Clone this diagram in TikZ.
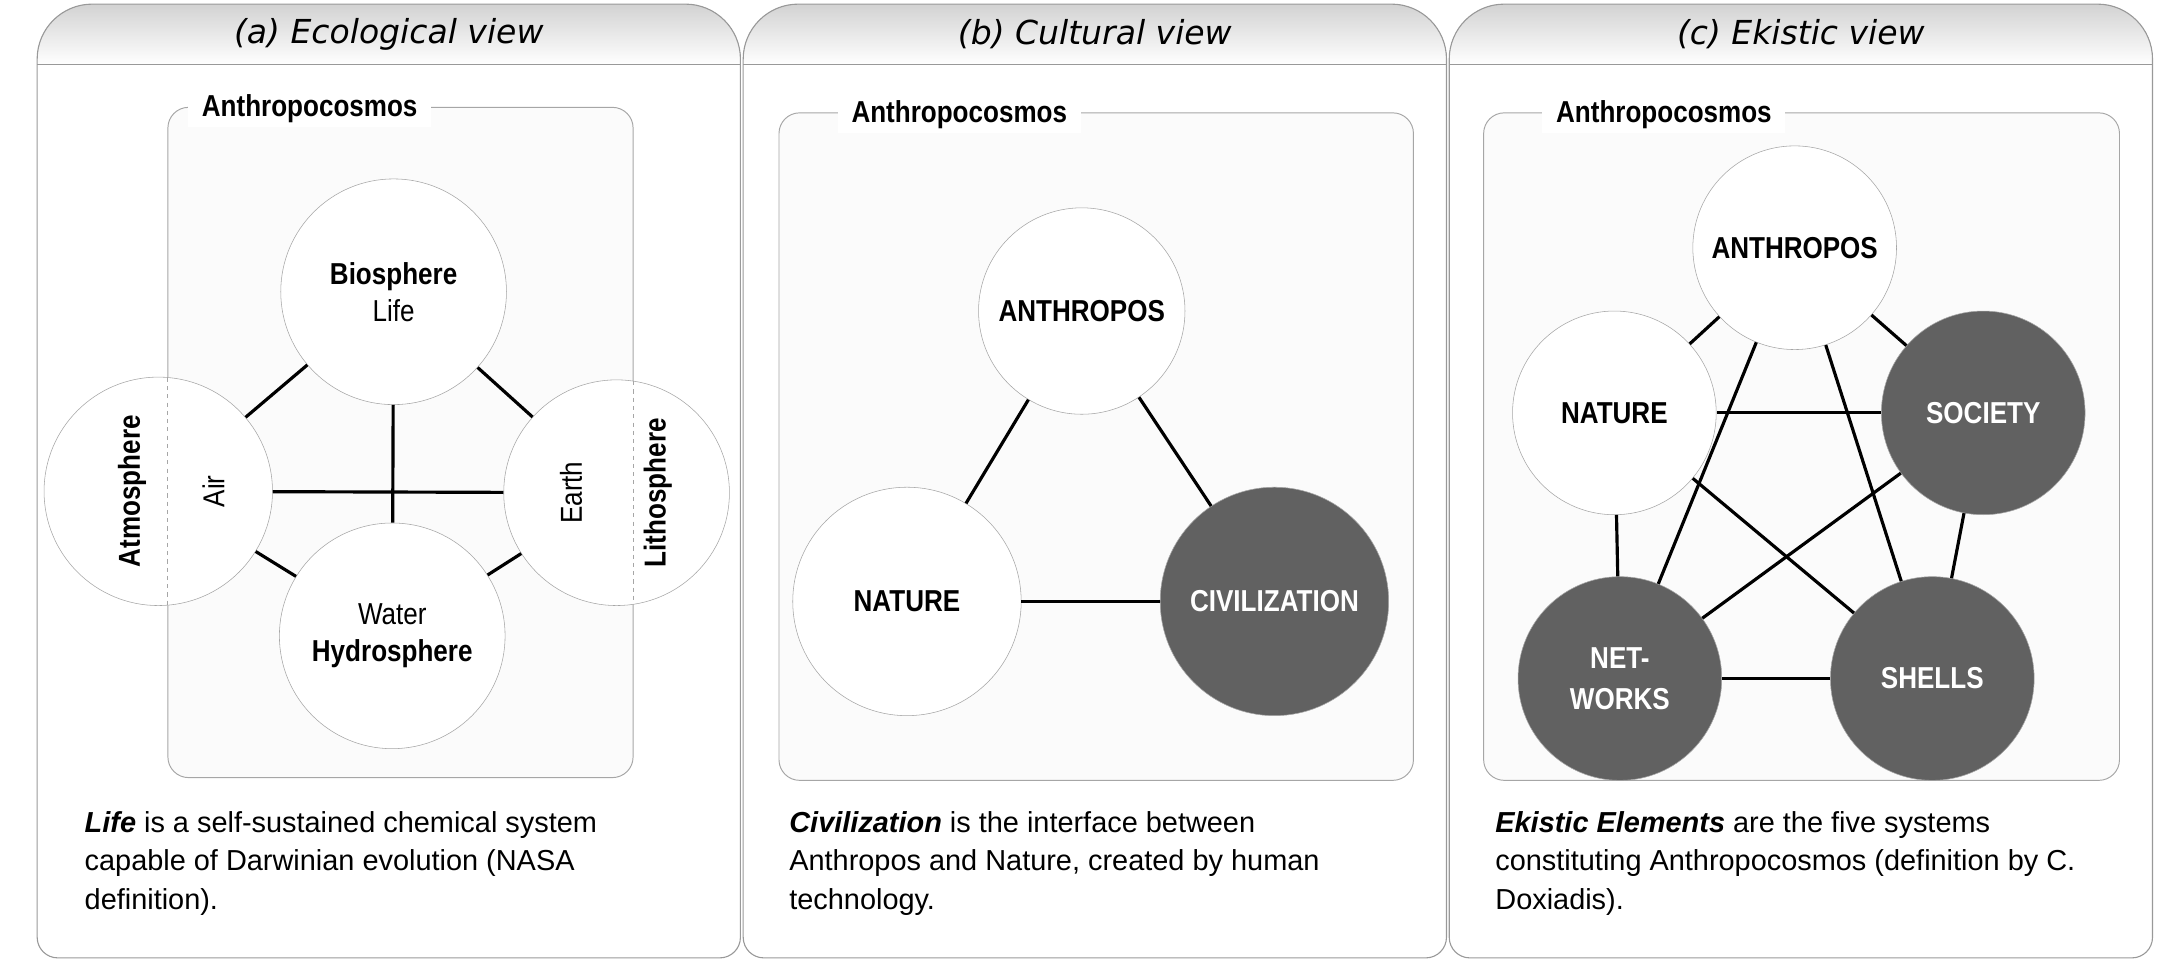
\documentclass[tikz,border=0pt]{standalone}
\usepackage{fontspec}
\setmainfont{Liberation Sans}
\newfontfamily\narrow[FakeStretch=0.86]{Liberation Sans}
\newfontfamily\headf{DejaVu Sans}
\begin{document}
\begin{tikzpicture}[x=1pt,y=-1pt,
  panel/.style={draw=gray!80,line width=0.8pt},
  inbox/.style={draw=gray!70,fill=gray!3,rounded corners=15pt,line width=0.7pt},
  boxlabel/.style={fill=white,inner xsep=10pt,font=\narrow\bfseries\fontsize{22}{26}\selectfont},
  wc/.style={circle,draw=gray!70,fill=white,minimum size=#1,inner sep=0pt,align=center,font=\narrow\fontsize{22}{27}\selectfont},
  gc/.style={circle,draw=gray!70,fill=black!62,text=white,minimum size=#1,inner sep=0pt,align=center,font=\narrow\bfseries\fontsize{22}{30}\selectfont},
  bl/.style={font=\narrow\bfseries\fontsize{22}{27}\selectfont},
  link/.style={line width=2.3pt},
  desc/.style={anchor=north west,align=left,font=\fontsize{21}{28}\selectfont},
  head/.style={font=\headf\itshape\fontsize{24}{28}\selectfont}]
\useasboundingbox (0,0) rectangle (1568,703);
\foreach \ox/\t in {27/{(a) Ecological view},540/{(b) Cultural view},1053/{(c) Ekistic view}}{
  \fill[top color=gray!35,bottom color=white] (\ox,47) -- (\ox,43) arc[start angle=180,end angle=270,radius=40] -- (\ox+471,3) arc[start angle=270,end angle=360,radius=40] -- (\ox+511,47) -- cycle;
  \draw[panel] (\ox,47) -- (\ox+511,47);
  \draw[panel] (\ox+15,696) arc[start angle=90,end angle=180,radius=15] -- (\ox,43) arc[start angle=180,end angle=270,radius=40] -- (\ox+471,3) arc[start angle=270,end angle=360,radius=40] -- (\ox+511,681) arc[start angle=0,end angle=90,radius=15] -- cycle;
  \node[head] (h\ox) at (\ox+255.5,25) {\t};
}
% panel a
\draw[inbox] (122,78) rectangle (460,565);
\node[boxlabel] (la) at (225,79) {Anthropocosmos};
\node[wc=164pt] (bio) at (286,212) {\textbf{Biosphere}\\Life};
\node[wc=166pt] (atm) at (115,357) {};
\node[wc=164pt] (ear) at (448,358) {};
\node[wc=164pt] (wat) at (285,462) {Water\\\textbf{Hydrosphere}};
\draw[gray!70,dashed,line width=0.7pt] (122,274.5) -- (122,439.5);
\draw[gray!70,dashed,line width=0.7pt] (460,277) -- (460,439);
\node[rotate=90,bl] (atmt) at (96,357) {Atmosphere};
\node[rotate=90,font=\narrow\fontsize{22}{27}\selectfont] (airt) at (155,357) {Air};
\node[rotate=90,font=\narrow\fontsize{22}{27}\selectfont] (eart) at (415,358) {Earth};
\node[rotate=90,bl] (litt) at (478,358) {Lithosphere};
\draw[link] (bio) -- (atm);
\draw[link] (bio) -- (ear);
\draw[link] (wat) -- (atm);
\draw[link] (wat) -- (ear);
\draw[link] (atm) -- (ear);
\draw[link] (bio) -- (wat);
\node[desc] (da) at (58,586) {\textbf{\textit{Life}} is a self-sustained chemical system\\capable of Darwinian evolution (NASA\\definition).};
% panel b
\draw[inbox] (566,82) rectangle (1027,567);
\node[boxlabel] (lb) at (697,83) {Anthropocosmos};
\node[wc=150pt,bl] (ban) at (786,226) {ANTHROPOS};
\node[wc=166pt,bl] (bna) at (659,437) {NATURE};
\node[gc=166pt] (bci) at (926,437) {CIVILIZATION};
\draw[link] (ban) -- (bna);
\draw[link] (ban) -- (bci);
\draw[link] (bna) -- (bci);
\node[desc] (db) at (570,586) {\textbf{\textit{Civilization}} is the interface between\\Anthropos and Nature, created by human\\technology.};
% panel c
\draw[inbox] (1078,82) rectangle (1540,567);
\node[boxlabel] (lc) at (1209,83) {Anthropocosmos};
\node[wc=148pt,bl] (can) at (1304,180) {ANTHROPOS};
\node[wc=148pt,bl] (cna) at (1173,300) {NATURE};
\node[gc=148pt] (cso) at (1441,300) {SOCIETY};
\node[gc=148pt] (cne) at (1177,493) {NET-\\WORKS};
\node[gc=148pt] (csh) at (1404,493) {SHELLS};
\foreach \a/\b in {can/cna,can/cso,can/cne,can/csh,cna/cso,cna/cne,cna/csh,cso/cne,cso/csh,cne/csh}
  \draw[link] (\a) -- (\b);
\node[desc] (dc) at (1083,586) {\textbf{\textit{Ekistic Elements}} are the five systems\\constituting Anthropocosmos (definition by C.\\Doxiadis).};
\end{tikzpicture}
\end{document}
